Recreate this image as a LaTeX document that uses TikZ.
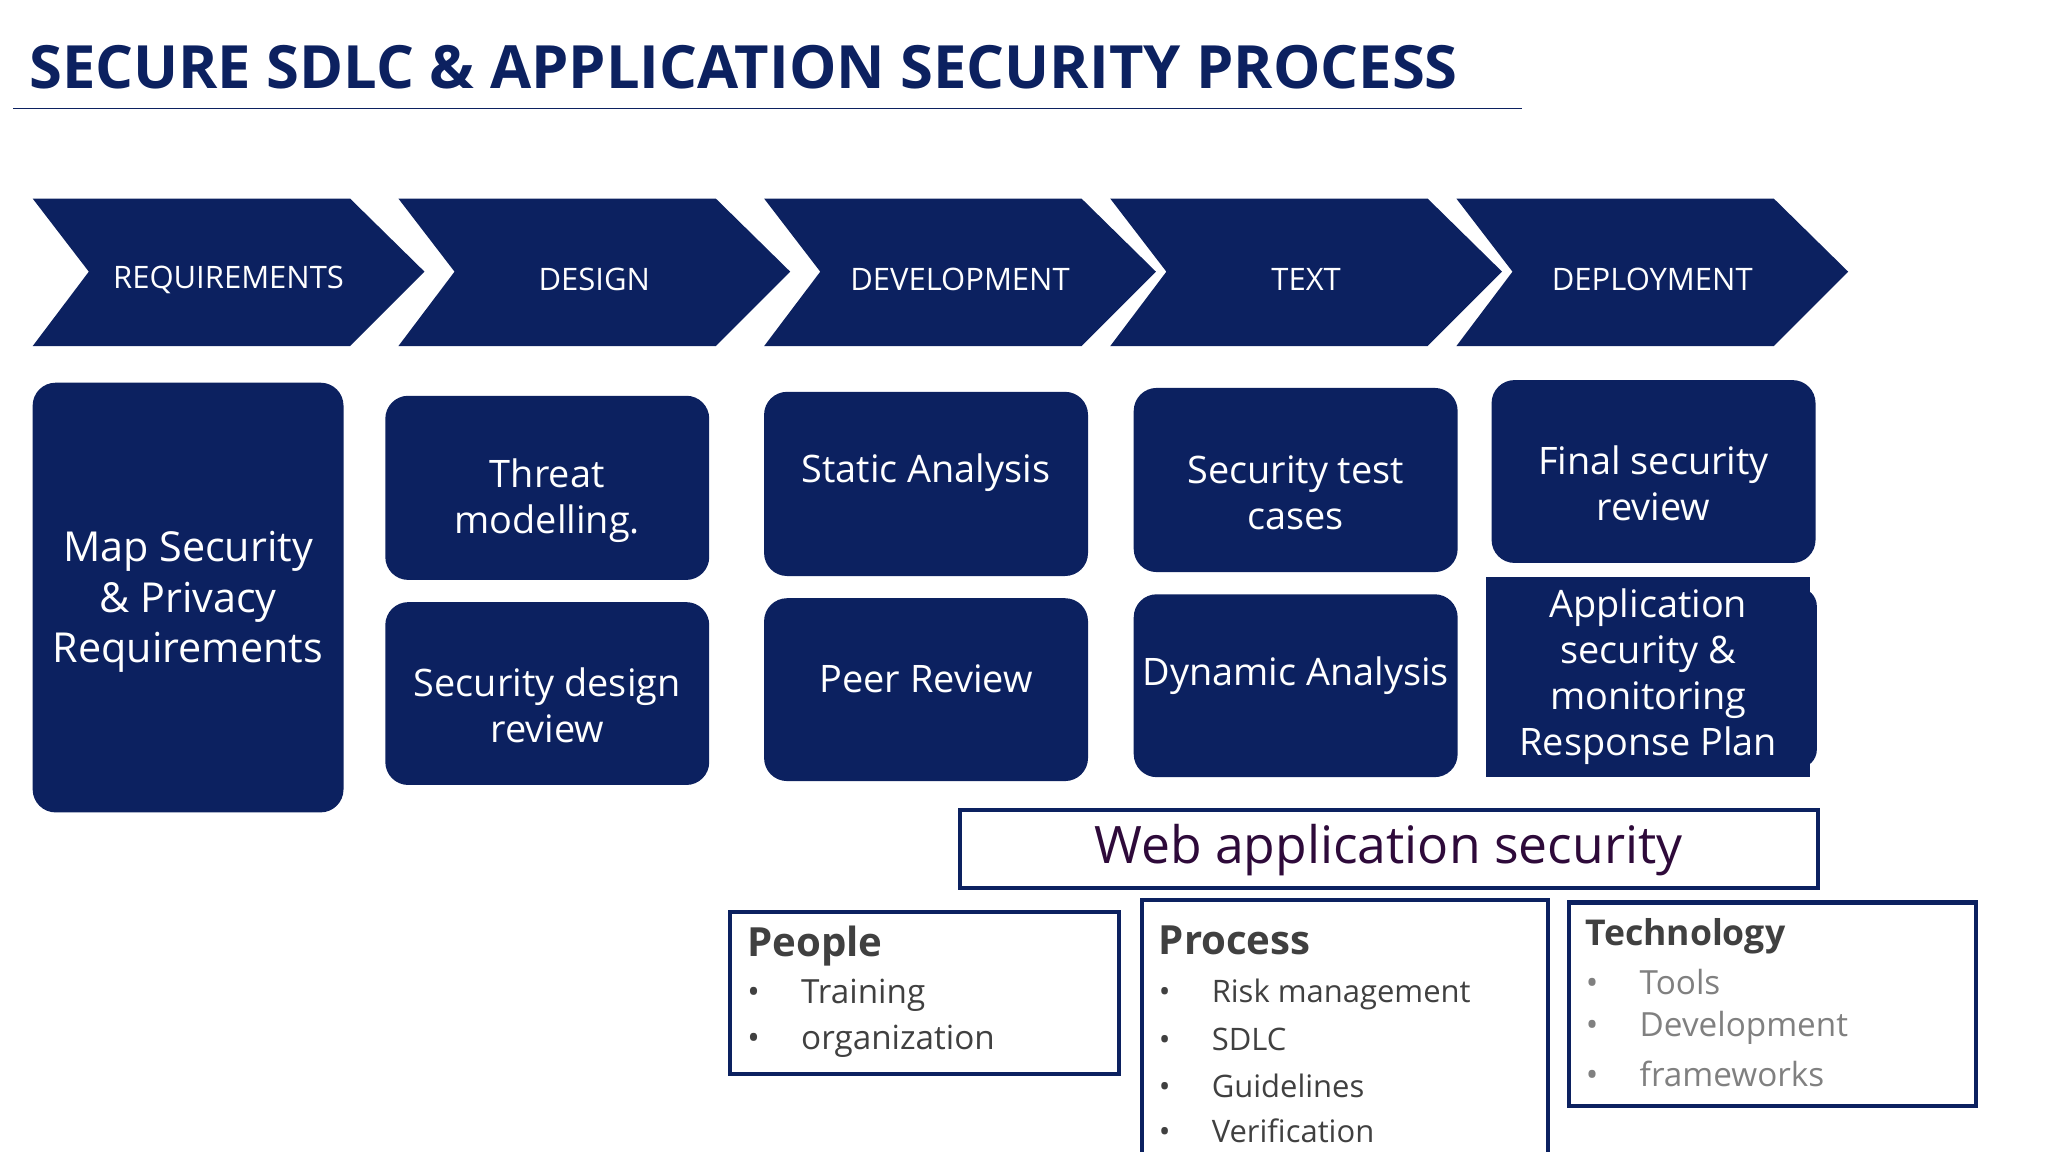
\documentclass[tikz,border=0pt]{standalone}
\usepackage{fontspec}
\setmainfont{Open Sans}
\begin{document}
\definecolor{navy}{RGB}{12,33,96}
\definecolor{tgray}{RGB}{64,64,64}
\definecolor{lgray}{RGB}{128,128,128}
\definecolor{wine}{RGB}{46,10,58}
\begin{tikzpicture}[x=0.02cm,y=-0.02cm,
  chev/.style={fill=navy,draw=none},
  ctext/.style={text=white,font=\fontsize{13.5}{16}\selectfont},
  box/.style={fill=navy,rounded corners=10pt,draw=none},
  btext/.style={text=white,align=center,font=\fontsize{16.5}{20}\selectfont},
  frame/.style={draw=navy,line width=1.8pt},
  ttl/.style={anchor=west,text=tgray,font=\bfseries\fontsize{17.5}{20}\selectfont},
  itm/.style={anchor=west,text=tgray,font=\fontsize{14.5}{17}\selectfont},
  itmg/.style={anchor=west,text=lgray,font=\fontsize{14.5}{17}\selectfont}]
\useasboundingbox (0,0) rectangle (1568,882);
\node[anchor=base west,text=navy,font=\bfseries\fontsize{26}{30}\selectfont,inner sep=0] (title) at (22,68) {SECURE SDLC \& APPLICATION SECURITY PROCESS};
\coordinate (l1) at (10,83); \coordinate (l2) at (1165,83);
\draw[navy,line width=0.6pt] (l1) -- (l2);
% chevrons
\foreach \a/\t/\n in {25/REQUIREMENTS/c1,305/DESIGN/c2,585/DEVELOPMENT/c3,850/TEXT/c4,1115/DEPLOYMENT/c5}{
  \fill[chev] (\a,152) -- (\a+243,152) -- (\a+300,208) -- (\a+243,265) -- (\a,265) -- (\a+43,208) -- cycle;
  \node[ctext] (\n) at (\a+150,214) {\t};
}
% boxes
\fill[box] (25,293) rectangle (263,622); \node[btext,font=\fontsize{18}{22}\selectfont] (a) at (144,461) {Map Security\\\& Privacy\\Requirements};
\fill[box] (295,303) rectangle (543,444); \node[btext] (b1) at (419,383) {Threat\\modelling.};
\fill[box] (295,461) rectangle (543,601); \node[btext] (b2) at (419,540) {Security design\\review};
\fill[box] (585,300) rectangle (833,441); \node[btext] (c1b) at (709,362) {Static Analysis};
\fill[box] (585,458) rectangle (833,598); \node[btext] (c2b) at (709,520) {Peer Review};
\fill[box] (868,297) rectangle (1116,438); \node[btext] (d1) at (992,377) {Security test\\cases};
\fill[box] (868,455) rectangle (1116,595); \node[btext] (d2) at (992,517) {Dynamic Analysis};
\fill[box] (1142,291) rectangle (1390,431); \node[btext] (e1) at (1266,370) {Final security\\review};
\fill[navy] (1138,442) rectangle (1386,595);
\fill[navy,rounded corners=8pt] (1370,450) rectangle (1391,588);
\node[btext] (e2) at (1262,518) {Application\\security \&\\monitoring\\Response Plan};
% web app
\draw[frame] (735,620) rectangle (1392,680);
\node[text=wine,font=\fontsize{22.5}{26}\selectfont] (web) at (1063,651) {Web application security};
% people
\draw[frame] (559,698) rectangle (857,822);
\node[ttl] (p) at (566,724) {People};
\node[itm] (p1) at (566,762) {\textbullet\hspace{18pt}Training};
\node[itm] (p2) at (566,797) {\textbullet\hspace{18pt}organization};
% process
\draw[frame] (874,920) -- (874,689) -- (1185,689) -- (1185,920);
\node[ttl] (q) at (881,720) {Process};
\node[itm,font=\fontsize{13.5}{16}\selectfont] (q1) at (881,761) {\textbullet\hspace{18pt}Risk management};
\node[itm,font=\fontsize{13.5}{16}\selectfont] (q2) at (881,796) {\textbullet\hspace{18pt}SDLC};
\node[itm,font=\fontsize{13.5}{16}\selectfont] (q3) at (881,831) {\textbullet\hspace{18pt}Guidelines};
\node[itm,font=\fontsize{13.5}{16}\selectfont] (q4) at (881,866) {\textbullet\hspace{18pt}Verification};
% technology
\draw[frame] (1201,691) rectangle (1513,847);
\node[ttl,font=\bfseries\fontsize{15.5}{18}\selectfont] (t) at (1208,717) {Technology};
\node[itmg] (t1) at (1208,752) {\textbullet\hspace{18pt}Tools};
\node[itmg] (t2) at (1208,787) {\textbullet\hspace{18pt}Development};
\node[itmg] (t3) at (1208,822) {\textbullet\hspace{18pt}frameworks};
\end{tikzpicture}
\end{document}
